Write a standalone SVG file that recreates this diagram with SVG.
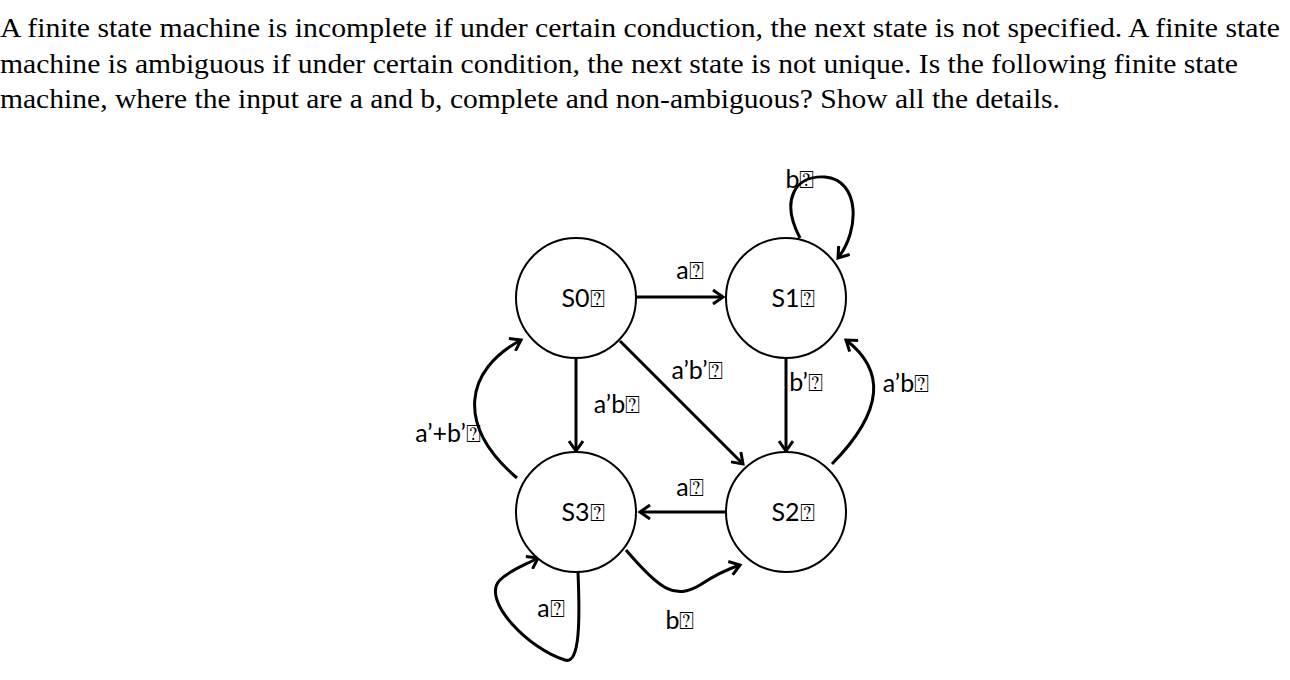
<svg xmlns="http://www.w3.org/2000/svg" width="1290" height="680" viewBox="0 0 1290 680">
<style>
.q{font-family:"Liberation Serif",serif;font-size:28px;fill:#000}
.l{font-family:Lato,"DejaVu Sans",sans-serif;font-size:25px;fill:#000;text-anchor:middle}
circle{fill:#fff;stroke:#000;stroke-width:2}
.c path{fill:none;stroke:#000;stroke-width:3}
</style>
<defs><marker id="a" markerWidth="16" markerHeight="16" refX="12" refY="8" orient="auto" markerUnits="userSpaceOnUse"><path d="M2,1 L12,8 L2,15" fill="none" stroke="#000" stroke-width="3"/></marker></defs>
<rect width="1290" height="680" fill="#fff"/>
<text class="q" x="0" y="37" textLength="1280" lengthAdjust="spacingAndGlyphs">A finite state machine is incomplete if under certain conduction, the next state is not specified. A finite state</text>
<text class="q" x="0" y="73" textLength="1238" lengthAdjust="spacingAndGlyphs">machine is ambiguous if under certain condition, the next state is not unique. Is the following finite state</text>
<text class="q" x="0" y="108" textLength="1060" lengthAdjust="spacingAndGlyphs">machine, where the input are a and b, complete and non-ambiguous? Show all the details.</text>
<g class="c">
<path d="M637,297 L723,297" marker-end="url(#a)"/>
<path d="M576,359 L576,451" marker-end="url(#a)"/>
<path d="M620,341 L743,464" marker-end="url(#a)"/>
<path d="M786,359 L786,451" marker-end="url(#a)"/>
<path d="M725,512 L640,512" marker-end="url(#a)"/>
<path d="M832,464 C885,410 885,370 846,340" marker-end="url(#a)"/>
<path d="M517,478 C455,425 465,370 521,340" marker-end="url(#a)"/>
<path d="M800,238 C780,200 795,175 825,177 C860,180 860,230 838,258" marker-end="url(#a)"/>
<path d="M578,572 C580,620 580,665 565,660 C530,650 480,600 500,580 C510,570 525,565 538,558" marker-end="url(#a)"/>
<path d="M626,550 C660,590 675,600 700,585 C715,575 725,570 740,565" marker-end="url(#a)"/>
</g>
<g id="S0"><circle cx="576" cy="298" r="60"/><text class="l" x="583" y="307">S0⍰</text></g>
<g id="S1"><circle cx="786" cy="298" r="60"/><text class="l" x="793" y="307">S1⍰</text></g>
<g id="S3"><circle cx="576" cy="512" r="60"/><text class="l" x="583" y="521">S3⍰</text></g>
<g id="S2"><circle cx="786" cy="512" r="60"/><text class="l" x="793" y="521">S2⍰</text></g>
<text class="l" x="690" y="279">a⍰</text>
<text class="l" x="697" y="379">a’b’⍰</text>
<text class="l" x="806" y="391">b’⍰</text>
<text class="l" x="617" y="413">a’b⍰</text>
<text class="l" x="906" y="392">a’b⍰</text>
<text class="l" x="448" y="442">a’+b’⍰</text>
<text class="l" x="690" y="496">a⍰</text>
<text class="l" x="551" y="617">a⍰</text>
<text class="l" x="680" y="629">b⍰</text>
<text class="l" x="800" y="188">b⍰</text>
</svg>
